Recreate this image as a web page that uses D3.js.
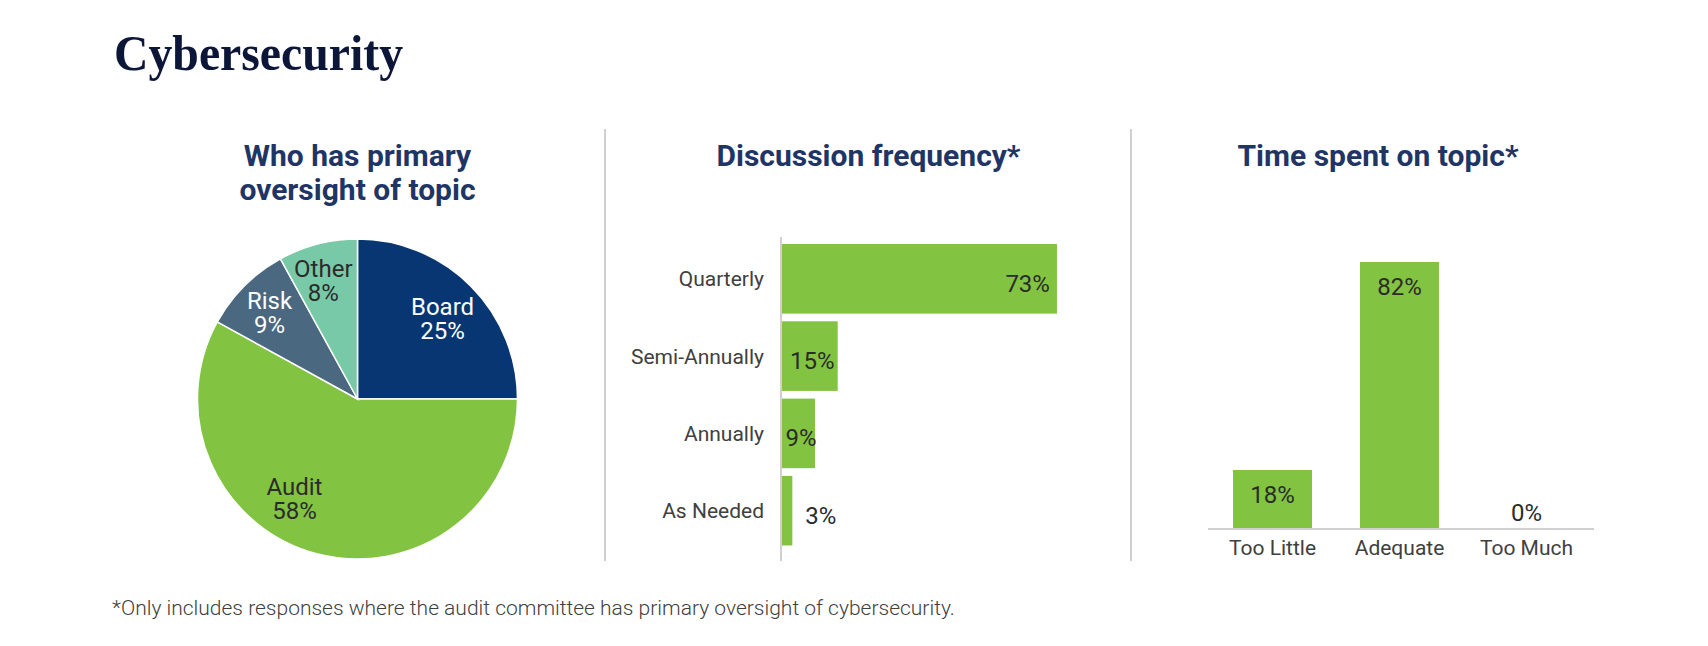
<!DOCTYPE html>
<html>
<head>
<meta charset="utf-8">
<script src="https://cdn.jsdelivr.net/npm/d3@7"></script>
<style>
  body { margin: 0; background: #fff; }
  svg { display: block; }
  text { font-family: Roboto, "Noto Sans", sans-serif; }
</style>
</head>
<body>
<svg id="chart" width="1708" height="646"></svg>
<script>
// pie: who has primary oversight
const oversightLabels = ['Board', 'Audit', 'Risk', 'Other'];
const oversightValues = [25, 58, 9, 8];
const oversightColors = ['#073673', '#82c341', '#4a6880', '#78c9a8'];
const oversightText = ['#ffffff', '#2b2b2b', '#ffffff', '#2b2b2b'];

// horizontal bars: discussion frequency
const freqLabels = ['Quarterly', 'Semi-Annually', 'Annually', 'As Needed'];
const freqValues = [73, 15, 9, 3];

// vertical bars: time spent
const timeLabels = ['Too Little', 'Adequate', 'Too Much'];
const timeValues = [18, 82, 0];

const navy = '#1e3566';
const green = '#82c341';
const grey = '#d0d0d0';
const labelColor = '#2b2b2b';

var svg = d3.select('#chart');

// page title
svg.append('text')
  .attr('x', 114).attr('y', 70)
  .attr('textLength', 289).attr('lengthAdjust', 'spacingAndGlyphs')
  .style('font-family', '"Liberation Serif", "DejaVu Serif", serif')
  .style('font-weight', 'bold')
  .style('font-size', '50px')
  .style('fill', '#0b1638')
  .text('Cybersecurity');

// dividers
[605, 1131].forEach(function(x) {
  svg.append('line')
    .attr('x1', x).attr('x2', x).attr('y1', 129).attr('y2', 561)
    .attr('stroke', grey).attr('stroke-width', 2);
});

function chartTitle(x, lines) {
  var t = svg.append('text')
    .attr('text-anchor', 'middle')
    .style('font-size', '30px')
    .style('font-weight', 'bold')
    .style('fill', navy);
  lines.forEach(function(l, i) {
    t.append('tspan').attr('x', x).attr('y', 166 + i * 34).text(l);
  });
}

chartTitle(357.5, ['Who has primary', 'oversight of topic']);
chartTitle(868.5, ['Discussion frequency*']);
chartTitle(1378, ['Time spent on topic*']);

// ---- pie ----
var pieG = svg.append('g').attr('transform', 'translate(357.5,399)');
var pie = d3.pie().sort(null).value(function(d) { return d; });
var arc = d3.arc().innerRadius(0).outerRadius(160);
var arcs = pie(oversightValues);

pieG.selectAll('path')
  .data(arcs)
  .enter().append('path')
  .attr('d', arc)
  .attr('fill', function(d, i) { return oversightColors[i]; })
  .attr('stroke', '#fff')
  .attr('stroke-width', 1.5);

// label placement: radius fraction and angle nudge (radians) per slice
var labelRadius = [0.73, 0.74, 0.77, 0.77];
var labelNudge = [0.03, 0.31, -0.01, -0.03];
pieG.selectAll('text.slice')
  .data(arcs)
  .enter().append('text')
  .attr('class', 'slice')
  .attr('text-anchor', 'middle')
  .style('font-size', '24px')
  .style('fill', function(d, i) { return oversightText[i]; })
  .each(function(d, i) {
    var r = 160 * labelRadius[i];
    var a = (d.startAngle + d.endAngle) / 2 + labelNudge[i];
    var cx = r * Math.sin(a), cy = -r * Math.cos(a);
    var t = d3.select(this);
    t.append('tspan').attr('x', cx).attr('y', cy - 4).text(oversightLabels[i]);
    t.append('tspan').attr('x', cx).attr('y', cy + 20).text(oversightValues[i] + '%');
  });

// ---- horizontal bars ----
var x2 = d3.scaleLinear().domain([0, 100]).range([781, 1159]);
var y2 = d3.scaleBand().domain(freqLabels).range([236.3, 553.2]).paddingInner(0.1).paddingOuter(0.1);

svg.selectAll('rect.freq')
  .data(freqValues)
  .enter().append('rect')
  .attr('class', 'freq')
  .attr('x', x2(0))
  .attr('y', function(d, i) { return y2(freqLabels[i]); })
  .attr('width', function(d) { return x2(d) - x2(0); })
  .attr('height', y2.bandwidth())
  .attr('fill', green);

svg.append('line')
  .attr('x1', 781).attr('x2', 781).attr('y1', 237).attr('y2', 561)
  .attr('stroke', grey).attr('stroke-width', 2);

svg.selectAll('text.freqCat')
  .data(freqLabels)
  .enter().append('text')
  .attr('class', 'freqCat')
  .attr('x', 764)
  .attr('y', function(d) { return y2(d) + y2.bandwidth() / 2; })
  .attr('dy', '0.36em')
  .attr('text-anchor', 'end')
  .style('font-size', '21px')
  .style('fill', '#404040')
  .text(function(d) { return d; });

svg.selectAll('text.freqVal')
  .data(freqValues)
  .enter().append('text')
  .attr('class', 'freqVal')
  .attr('y', function(d, i) { return y2(freqLabels[i]) + y2.bandwidth() / 2 + 13; })
  .style('font-size', '24px')
  .style('fill', labelColor)
  .each(function(d) {
    var w = x2(d) - x2(0);
    var t = d3.select(this);
    if (w > 100) t.attr('x', x2(d) - 7).attr('text-anchor', 'end');
    else if (w > 30) t.attr('x', x2(0) + w / 2 + 3).attr('text-anchor', 'middle');
    else t.attr('x', x2(d) + 13).attr('text-anchor', 'start');
  })
  .text(function(d) { return d + '%'; });

// ---- vertical bars ----
var x3 = d3.scaleBand().domain(timeLabels).range([1209, 1590]).paddingInner(0.378).paddingOuter(0.189);
var y3 = d3.scaleLinear().domain([0, 100]).range([528.5, 203.5]);

svg.selectAll('rect.time')
  .data(timeValues)
  .enter().append('rect')
  .attr('class', 'time')
  .attr('x', function(d, i) { return x3(timeLabels[i]); })
  .attr('y', function(d) { return y3(d); })
  .attr('width', x3.bandwidth())
  .attr('height', function(d) { return y3(0) - y3(d); })
  .attr('fill', green);

svg.append('line')
  .attr('x1', 1208).attr('x2', 1594).attr('y1', 529).attr('y2', 529)
  .attr('stroke', grey).attr('stroke-width', 2);

svg.selectAll('text.timeCat')
  .data(timeLabels)
  .enter().append('text')
  .attr('class', 'timeCat')
  .attr('x', function(d) { return x3(d) + x3.bandwidth() / 2; })
  .attr('y', 555)
  .attr('text-anchor', 'middle')
  .style('font-size', '21px')
  .style('fill', '#404040')
  .text(function(d) { return d; });

svg.selectAll('text.timeVal')
  .data(timeValues)
  .enter().append('text')
  .attr('class', 'timeVal')
  .attr('x', function(d, i) { return x3(timeLabels[i]) + x3.bandwidth() / 2; })
  .attr('y', function(d) { return d > 5 ? y3(d) + 33 : y3(d) - 8; })
  .attr('text-anchor', 'middle')
  .style('font-size', '24px')
  .style('fill', labelColor)
  .text(function(d) { return d + '%'; });

// footnote
svg.append('text')
  .attr('x', 112).attr('y', 615)
  .style('font-size', '21px')
  .style('font-weight', 300)
  .style('fill', '#404040')
  .text('*Only includes responses where the audit committee has primary oversight of cybersecurity.');
</script>
</body>
</html>
